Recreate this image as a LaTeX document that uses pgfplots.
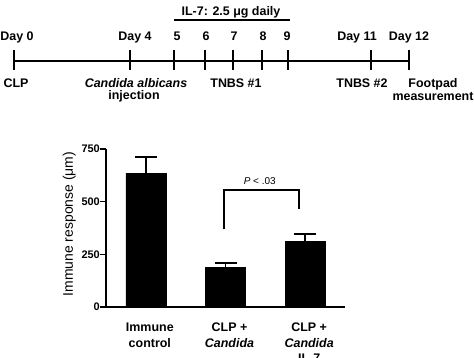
\documentclass[border=0pt]{standalone}
\usepackage{pgfplots}
\pgfplotsset{compat=1.18}
\usepackage{fontspec}
\setmainfont{Liberation Sans}
\newcommand\tl{\fontsize{12.5}{15}\selectfont\bfseries}
\begin{document}
\begin{tikzpicture}
\path[use as bounding box] (0,0) rectangle (474bp,358bp);
% timeline (pixel coordinates of the reference)
\begin{axis}[at={(0,0)}, anchor=south west, scale only axis, width=474bp, height=358bp,
  xmin=0, xmax=474, ymin=0, ymax=358, y dir=reverse, hide axis, clip=false]
\addplot[black, line width=2bp] coordinates {(14,61) (409,61)};
\addplot[black, line width=2bp] coordinates {(174,20) (290,20)};
\addplot[black, only marks, mark=|, mark size=10bp, mark options={line width=2bp}]
  coordinates {(14,60) (130,60) (174,60) (205,60) (233,60) (262,60) (288,60) (371,60) (409,60)};
\node[font=\tl, anchor=base] at (axis cs:231,16) {IL-7: 2.5 μg daily};
\node[font=\tl, anchor=base] at (axis cs:17,41) {Day 0};
\node[font=\tl, anchor=base] at (axis cs:135,41) {Day 4};
\node[font=\tl, anchor=base] at (axis cs:177,41) {5};
\node[font=\tl, anchor=base] at (axis cs:206,41) {6};
\node[font=\tl, anchor=base] at (axis cs:234,41) {7};
\node[font=\tl, anchor=base] at (axis cs:263,41) {8};
\node[font=\tl, anchor=base] at (axis cs:287,41) {9};
\node[font=\tl, anchor=base] at (axis cs:357,41) {Day 11};
\node[font=\tl, anchor=base] at (axis cs:409,41) {Day 12};
\node[font=\tl, anchor=base] at (axis cs:16,88) {CLP};
\node[font=\tl, anchor=base] at (axis cs:136,88) {\textit{Candida albicans}};
\node[font=\tl, anchor=base] at (axis cs:134,100) {injection};
\node[font=\tl, anchor=base] at (axis cs:236,88) {TNBS \#1};
\node[font=\tl, anchor=base] at (axis cs:362,88) {TNBS \#2};
\node[font=\tl, anchor=base] at (axis cs:433,88) {Footpad};
\node[font=\tl, anchor=base, inner sep=0pt] at (axis cs:433,100.5) {measurement};
\end{axis}
% bar chart
\begin{axis}[at={(106bp,51bp)}, anchor=south west, scale only axis, width=239bp, height=158bp,
  xmin=-0.5, xmax=2.5, ymin=0, ymax=750,
  axis x line*=bottom, axis y line*=left,
  axis line style={line width=1.6bp, black},
  ytick={0,250,500,750}, xtick={0,1,2},
  xticklabels={{Immune\\control},{CLP +\\\textit{Candida}},{CLP +\\\textit{Candida}\\IL-7}},
  major x tick style={draw=none},
  y tick style={line width=1.6bp, black},
  tick align=outside, major tick length=6bp,
  /pgf/number format/assume math mode=true,
  yticklabel style={font=\fontsize{11}{13}\selectfont\bfseries, inner sep=0pt, anchor=east},
  xticklabel style={font=\fontsize{12.5}{15.5}\selectfont\bfseries, align=center, anchor=north, inner sep=0pt, yshift=-10bp, xshift=4bp},
  ylabel={Immune response (μm)},
  ylabel style={font=\fontsize{14}{16}\selectfont, at={(axis description cs:-0.139,0.525)}, anchor=base},
  clip=false]
\addplot[ybar, bar width=40bp, fill=black, draw=black,
  error bars/.cd, y dir=plus, y explicit,
  error bar style={line width=1.8bp, black},
  error mark options={rotate=90, line width=1.8bp, mark size=11bp, black}]
  coordinates {(0,634) +- (0,79) (1,188) +- (0,22) (2,310) +- (0,36)};
\addplot[black, line width=2bp] coordinates {(0.98,369) (0.98,555) (1.92,555) (1.92,467)};
\node[font=\fontsize{10}{12}\selectfont, anchor=base] at (axis cs:1.43,582) {\textit{P} < .03};
\end{axis}
\end{tikzpicture}
\end{document}
